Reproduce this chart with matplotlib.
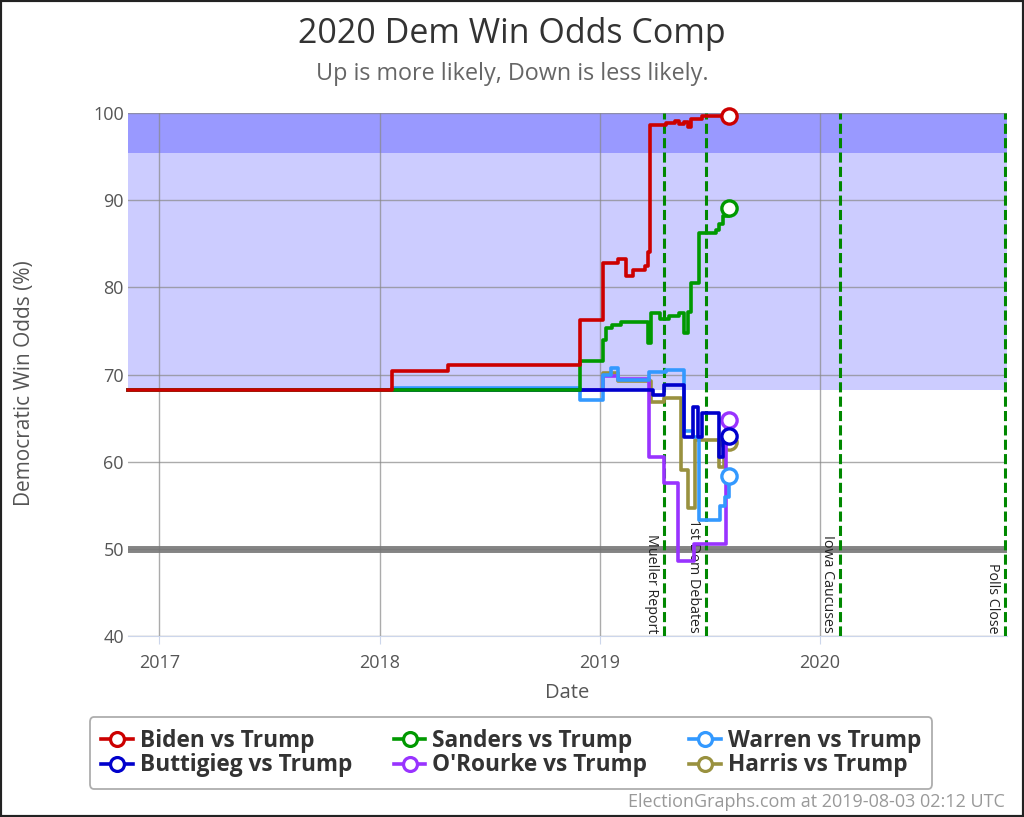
import pandas as pd
import matplotlib.pyplot as plt
import matplotlib.dates as mdates
from matplotlib.lines import Line2D
from matplotlib.patches import Rectangle

plt.rcParams['font.family'] = ['Open Sans', 'DejaVu Sans']

# series: (date, value) step points
biden_dates = ["2016-11-10", "2018-01-22", "2018-04-25", "2018-11-30", "2019-01-06", "2019-02-01",
               "2019-02-14", "2019-02-25", "2019-03-17", "2019-03-22", "2019-03-25", "2019-04-20",
               "2019-05-05", "2019-05-12", "2019-05-20", "2019-05-28", "2019-06-01", "2019-06-20",
               "2019-08-03"]
biden_vals = [68.2, 70.4, 71.1, 76.3, 82.8, 83.2, 81.3, 82.0, 82.5, 84.0, 98.6, 98.9,
              99.1, 98.7, 99.0, 98.4, 99.3, 99.6, 99.6]

sanders_dates = ["2016-11-10", "2018-11-30", "2019-01-06", "2019-01-12", "2019-01-22", "2019-02-05",
                 "2019-03-22", "2019-03-27", "2019-04-10", "2019-04-25", "2019-05-12", "2019-05-20",
                 "2019-05-28", "2019-06-02", "2019-06-14", "2019-07-12", "2019-07-18", "2019-07-24",
                 "2019-08-03"]
sanders_vals = [68.2, 71.6, 74.0, 75.3, 75.7, 76.0, 73.6, 77.0, 76.4, 76.7, 77.0, 74.8,
                77.2, 80.5, 86.2, 86.6, 87.3, 88.2, 89.1]

warren_dates = ["2016-11-10", "2018-01-22", "2018-11-30", "2019-01-06", "2019-01-20", "2019-02-01",
                "2019-03-24", "2019-04-20", "2019-05-20", "2019-06-04", "2019-06-14", "2019-07-20",
                "2019-07-28", "2019-08-03"]
warren_vals = [68.2, 68.5, 67.1, 70.0, 70.8, 69.4, 70.3, 70.5, 63.5, 62.8, 53.3, 54.9,
               56.0, 58.3]

buttigieg_dates = ["2016-11-10", "2019-03-31", "2019-04-18", "2019-05-20", "2019-06-04", "2019-06-12",
                   "2019-06-20", "2019-07-17", "2019-07-25", "2019-08-03"]
buttigieg_vals = [68.2, 67.6, 68.8, 62.8, 66.3, 62.8, 65.6, 60.5, 63.0, 63.0]

orourke_dates = ["2016-11-10", "2019-01-06", "2019-02-01", "2019-03-24", "2019-04-17", "2019-05-11",
                 "2019-06-06", "2019-07-30", "2019-08-03"]
orourke_vals = [68.2, 69.8, 69.5, 60.5, 57.6, 48.6, 50.5, 64.8, 64.8]

harris_dates = ["2016-11-10", "2019-01-06", "2019-02-01", "2019-03-27", "2019-04-18", "2019-05-15",
                "2019-05-28", "2019-06-08", "2019-07-17", "2019-07-26", "2019-08-03"]
harris_vals = [68.2, 70.2, 69.2, 66.8, 67.3, 59.0, 54.7, 62.5, 59.4, 62.2, 62.2]

names = ["Biden vs Trump", "Buttigieg vs Trump", "Sanders vs Trump",
         "O'Rourke vs Trump", "Warren vs Trump", "Harris vs Trump"]
colors = ["#cc0000", "#0000cc", "#009900", "#9933ff", "#3399ff", "#99913f"]
all_dates = [biden_dates, buttigieg_dates, sanders_dates, orourke_dates, warren_dates, harris_dates]
all_vals = [biden_vals, buttigieg_vals, sanders_vals, orourke_vals, warren_vals, harris_vals]

events = ["Mueller Report", "1st Dem Debates", "Iowa Caucuses", "Polls Close"]
event_dates = ["2019-04-18", "2019-06-26", "2020-02-03", "2020-11-03"]

fig = plt.figure(figsize=(10.24, 8.17), dpi=100)
ax = fig.add_axes([128/1024, 1-636/817, 879/1024, 523/817])

x0 = pd.Timestamp("2016-11-10")
x1 = pd.Timestamp("2020-11-06")
ax.set_xlim(x0, x1)
ax.set_ylim(40, 100)

# bandes de fond
ax.axhspan(68.2, 100, color="#ccccff", zorder=0, lw=0)
ax.axhspan(95.4, 100, color="#9999ff", zorder=0, lw=0)

ax.grid(True, color="#888888", lw=1, alpha=0.7, zorder=1)
ax.set_axisbelow(True)
ax.axhline(50, color="#777777", lw=5, alpha=0.9, zorder=2)

for d in event_dates:
    ax.axvline(pd.Timestamp(d), color="#008800", lw=2.2, ls=(0, (3.3, 1.4)), zorder=3)
for lab, d in zip(events, event_dates):
    ax.annotate(lab, (pd.Timestamp(d), 40), xytext=(-3.5, 2), textcoords="offset points",
                rotation=-90, ha="right", va="bottom", fontsize=10.3, color="#222222", zorder=4)

# Biden dessiné en dernier pour être au-dessus
order = [5, 3, 4, 1, 2, 0]
for i in order:
    ax.plot(pd.to_datetime(all_dates[i]), all_vals[i], drawstyle="steps-post",
            color=colors[i], lw=2.6, zorder=5,
            marker="o", markevery=[len(all_vals[i]) - 1], markersize=11,
            markerfacecolor="white", markeredgewidth=2.4, clip_on=False)

ax.set_yticks([40, 50, 60, 70, 80, 90, 100])
ax.xaxis.set_major_locator(mdates.YearLocator())
ax.xaxis.set_major_formatter(mdates.DateFormatter("%Y"))
ax.tick_params(axis="y", labelsize=13, colors="#555555", length=0, pad=3)
ax.tick_params(axis="x", labelsize=13, colors="#555555", length=6, color="#ccd6eb", pad=7)
for s in ["top", "right", "left"]:
    ax.spines[s].set_visible(False)
ax.spines["bottom"].set_color("#ccd6eb")

ax.set_ylabel("Democratic Win Odds (%)", fontsize=15, color="#555555")
ax.yaxis.set_label_coords(-0.106, 0.484)
ax.set_xlabel("Date", fontsize=14.5, color="#555555", labelpad=8)

fig.text(0.5, 1-34/817, "2020 Dem Win Odds Comp", ha="center", va="center",
         fontsize=24.5, color="#333333")
fig.text(0.5, 1-74/817, "Up is more likely, Down is less likely.", ha="center", va="center",
         fontsize=16.8, color="#666666")

handles = [Line2D([], [], color=c, lw=2.6, marker="o", markersize=10,
                  markerfacecolor="white", markeredgewidth=2.3) for c in colors]
leg = fig.legend(handles, names, ncol=3, loc="center", bbox_to_anchor=(511/1024, 1-753/817),
                 prop={"weight": "bold", "size": 16.3}, labelcolor="#333333",
                 frameon=True, fancybox=True, edgecolor="#999999", handlelength=1.4,
                 handletextpad=0.3, columnspacing=1.85, labelspacing=0.04,
                 borderpad=0.5)
leg.get_frame().set_linewidth(1.3)

fig.text(1005/1024, 1-802/817, "ElectionGraphs.com at 2019-08-03 02:12 UTC", ha="right",
         va="center", fontsize=13, color="#999999")

fig.patches.append(Rectangle((0, 0), 1, 1, transform=fig.transFigure, fill=False,
                             edgecolor="#222222", lw=3))

plt.savefig("out.png", dpi=100)
